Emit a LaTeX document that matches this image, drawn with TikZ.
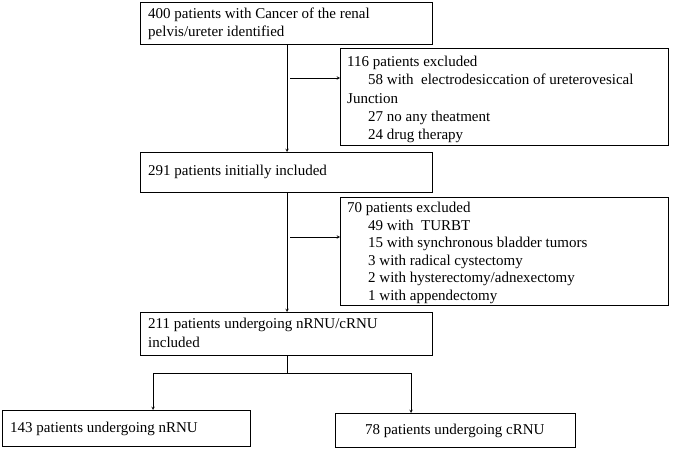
\documentclass[tikz,border=0pt]{standalone}
\usepackage{fontspec}
\setmainfont{Liberation Serif}
\begin{document}
\begin{tikzpicture}[x=1pt,y=-1pt,
  box/.style={draw,line width=0.6pt,minimum height=#1,anchor=north west,inner sep=0pt},
  txt/.style={anchor=west,align=left,font=\fontsize{15}{18.3}\selectfont,inner sep=0pt},
  arr/.style={-stealth,line width=0.5pt}]
\useasboundingbox (0,0) rectangle (685,449);
\node[box=42pt,minimum width=292pt] (b1) at (140,2) {};
\node[txt] (t1) at (148,24) {400 patients with Cancer of the renal\\pelvis/ureter identified};
\node[box=97pt,minimum width=328pt] (b2) at (340,48) {};
\node[txt] (t2) at (347,99.5) {116 patients excluded\\\hspace{21pt}58 with\ \ electrodesiccation of ureterovesical\\Junction\\\hspace{21pt}27 no any theatment\\\hspace{21pt}24 drug therapy};
\node[box=40pt,minimum width=292pt] (b3) at (140,152) {};
\node[txt] (t3) at (148,172) {291 patients initially included};
\node[box=108pt,minimum width=328pt] (b4) at (340,197) {};
\node[txt,font=\fontsize{15}{17.6}\selectfont] (t4) at (347,253) {70 patients excluded\\\hspace{21pt}49 with\ \ TURBT\\\hspace{21pt}15 with synchronous bladder tumors\\\hspace{21pt}3 with radical cystectomy\\\hspace{21pt}2 with hysterectomy/adnexectomy\\\hspace{21pt}1 with appendectomy};
\node[box=43pt,minimum width=292pt] (b5) at (140,312) {};
\node[txt] (t5) at (148,333) {211 patients undergoing nRNU/cRNU\\included};
\node[box=36pt,minimum width=248pt] (b6) at (2,410) {};
\node[txt] (t6) at (10,429) {143 patients undergoing nRNU};
\node[box=34pt,minimum width=240pt] (b7) at (335,413) {};
\node[txt] (t7) at (365,431) {78 patients undergoing cRNU};
\coordinate (a1) at (290,78); \coordinate (a2) at (290,237);
\coordinate (s) at (287,373); \coordinate (l) at (153,373); \coordinate (r) at (411,373);
\draw[arr] (b1.south -| 287,0) -- (b3.north -| 287,0);
\draw[arr] (a1) -- (a1 -| b2.west);
\draw[arr] (b3.south -| 287,0) -- (b5.north -| 287,0);
\draw[arr] (a2) -- (a2 -| b4.west);
\draw[line width=0.5pt] (b5.south -| 287,0) -- (s);
\draw[line width=0.5pt] (l) -- (r);
\draw[arr] (l) -- (l |- b6.north);
\draw[arr] (r) -- (r |- b7.north);
\end{tikzpicture}
\end{document}
